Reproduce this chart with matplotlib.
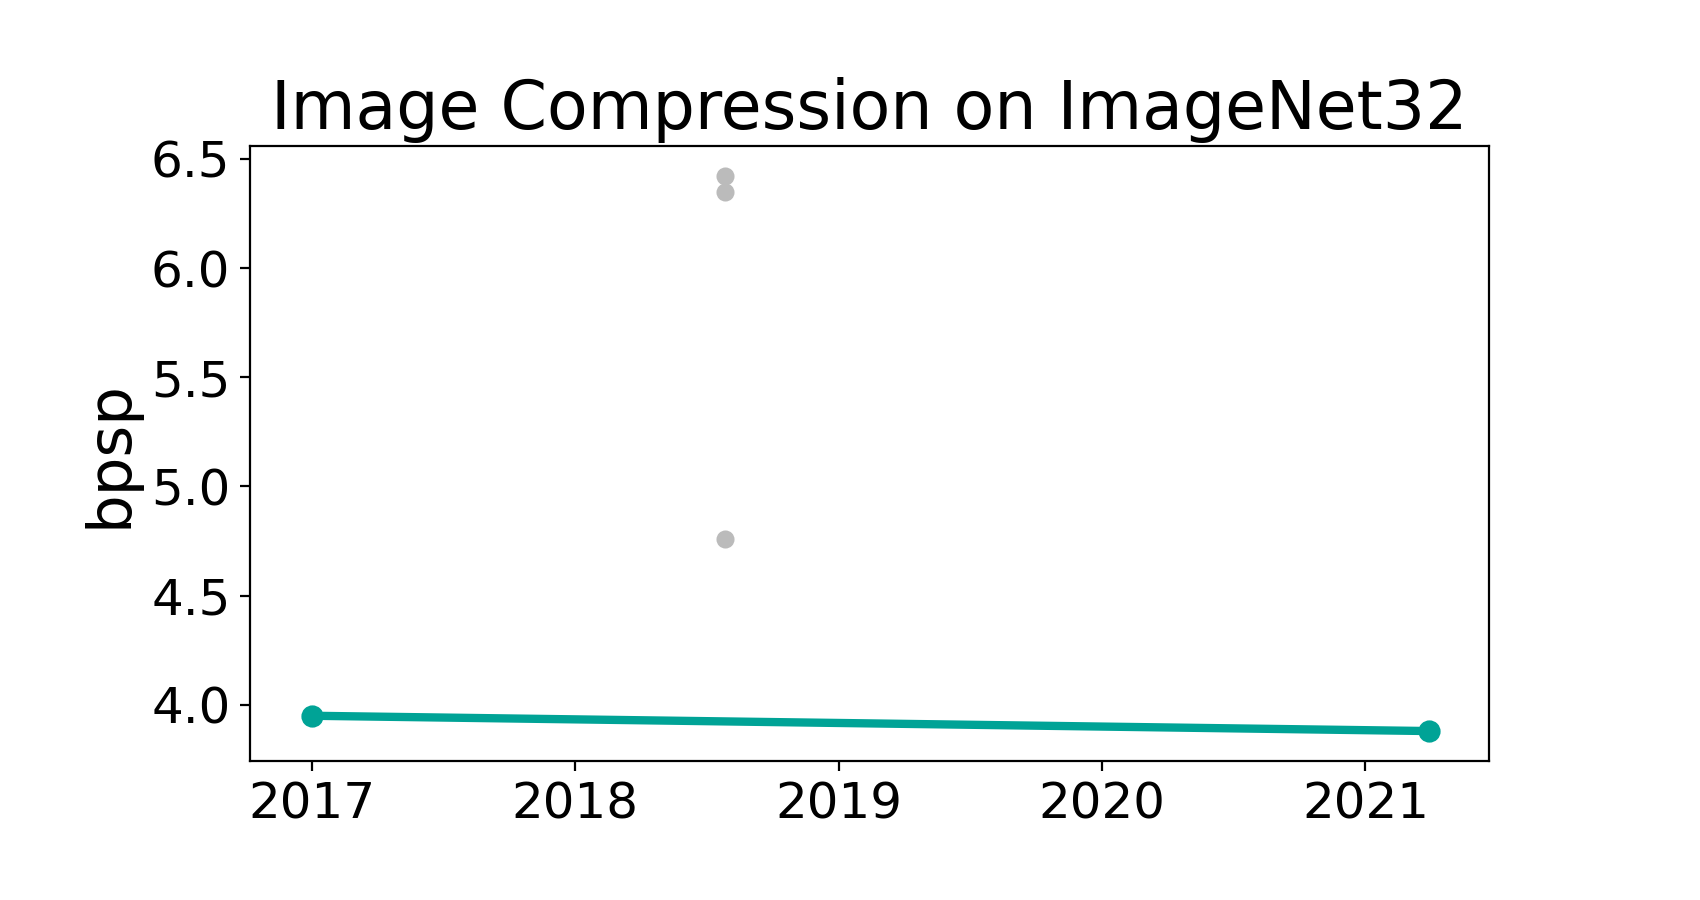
import matplotlib
matplotlib.use("Agg")
import matplotlib.pyplot as plt

# Data
main_years = [2017.0, 2021.24]
main_bpsp = [3.95, 3.88]
other_years = [2018.57, 2018.57, 2018.57]
other_bpsp = [6.42, 6.35, 4.76]
xticks = [2017, 2018, 2019, 2020, 2021]

fig = plt.figure(figsize=(8.5, 4.5), dpi=200)
ax = fig.add_axes([0.147, 0.154, 0.876 - 0.147, 0.838 - 0.154])

ax.plot(other_years, other_bpsp, 'o', color='#bbbbbb', markersize=5.5, linestyle='none')
ax.plot(main_years, main_bpsp, '-o', color='#00a396', linewidth=3, markersize=7)

ax.set_xticks(xticks)
ax.set_xticklabels([str(t) for t in xticks])
ax.set_xlim(2016.765, 2021.47)
ax.set_ylim(3.741, 6.56)
ax.tick_params(labelsize=18)
ax.set_ylabel('bpsp', fontsize=22)
ax.set_title('Image Compression on ImageNet32', fontsize=24)

fig.savefig('out.png', dpi=200)
